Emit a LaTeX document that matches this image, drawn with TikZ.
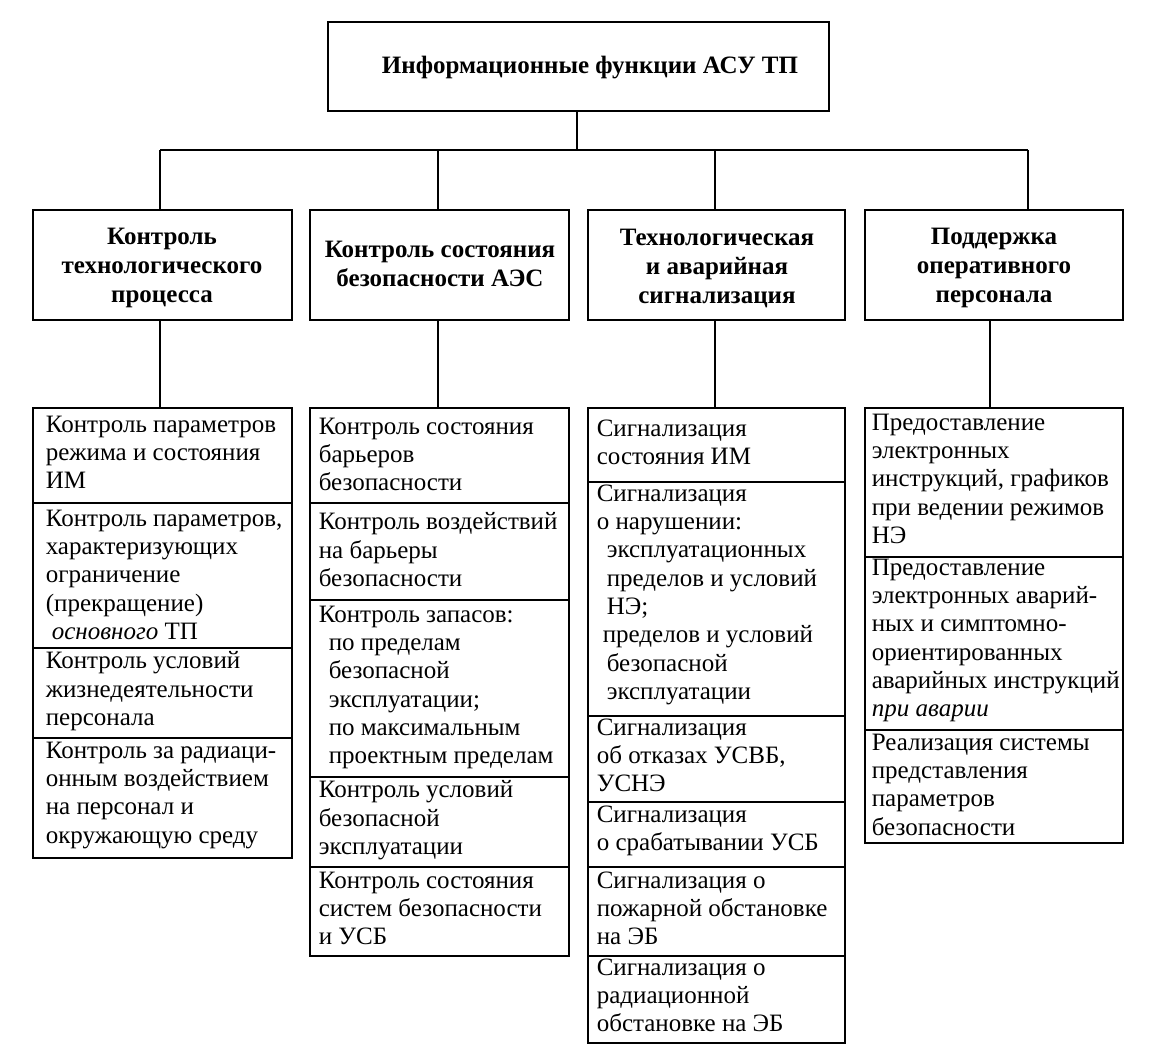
\documentclass[tikz,border=0pt]{standalone}
\usepackage{fontspec}
\setmainfont{Liberation Serif}
\begin{document}
\begin{tikzpicture}[x=1pt,y=-1pt,line width=1.6pt,
  box/.style={draw},
  head/.style={font=\fontsize{25}{29}\selectfont\bfseries,align=center},
  txt/.style={anchor=north west,inner sep=0pt,align=left,font=\fontsize{25}{28.3}\selectfont}]
\useasboundingbox (0,0) rectangle (1153,1063);
% top
\draw[box] (328,22) rectangle (829,111);
\node[head] (top) at (590,68) {Информационные функции АСУ ТП};
\coordinate (tb) at (577,111);
\coordinate (tj) at (577,150);
\draw (tb) -- (tj);
\draw (160,150) -- (1028,150);
\foreach \x in {160,438,715,1028} \draw (\x,150) -- (\x,210);
% level 2
\draw[box] (33,210) rectangle (292,320);
\draw[box] (310,210) rectangle (569,320);
\draw[box] (588,210) rectangle (845,320);
\draw[box] (865,210) rectangle (1123,320);
\node[head] (h1) at (162,268) {Контроль\\технологического\\процесса};
\node[head] (h2) at (440,264) {Контроль состояния\\безопасности АЭС};
\node[head] (h3) at (717,268) {Технологическая\\и аварийная\\сигнализация};
\node[head] (h4) at (994,268) {Поддержка\\оперативного\\персонала};
\foreach \x in {160,438,715,990} \draw (\x,320) -- (\x,408);
% column 1
\foreach \a/\b in {408/503,503/648,648/738,738/858} \draw[box] (33,\a) rectangle (292,\b);
\node[txt] (c11) at (45,415) {Контроль параметров\\режима и состояния\\ИМ};
\node[txt] (c12) at (45,509) {Контроль параметров,\\характеризующих\\ограничение\\(прекращение)\\\hspace*{6pt}\textit{основного} ТП};
\node[txt] (c13) at (45,651) {Контроль условий\\жизнедеятельности\\персонала};
\node[txt] (c14) at (45,741) {Контроль за радиаци-\\онным воздействием\\на персонал и\\окружающую среду};
% column 2
\foreach \a/\b in {408/503,503/600,600/777,777/867,867/956} \draw[box] (310,\a) rectangle (569,\b);
\node[txt] (c21) at (318,417) {Контроль состояния\\барьеров\\безопасности};
\node[txt] (c22) at (318,512) {Контроль воздействий\\на барьеры\\безопасности};
\node[txt] (c23) at (318,605) {Контроль запасов:\\\hspace*{10pt}по пределам\\\hspace*{10pt}безопасной\\\hspace*{10pt}эксплуатации;\\\hspace*{10pt}по максимальным\\\hspace*{10pt}проектным пределам};
\node[txt] (c24) at (318,780) {Контроль условий\\безопасной\\эксплуатации};
\node[txt] (c25) at (318,871) {Контроль состояния\\систем безопасности\\и УСБ};
% column 3
\foreach \a/\b in {408/482,482/716,716/802,802/867,867/956,956/1043} \draw[box] (588,\a) rectangle (845,\b);
\node[txt] (c31) at (596,419) {Сигнализация\\состояния ИМ};
\node[txt] (c32) at (596,484) {Сигнализация\\о нарушении:\\\hspace*{10pt}эксплуатационных\\\hspace*{10pt}пределов и условий\\\hspace*{10pt}НЭ;\\\hspace*{6pt}пределов и условий\\\hspace*{10pt}безопасной\\\hspace*{10pt}эксплуатации};
\node[txt] (c33) at (596,718) {Сигнализация\\об отказах УСВБ,\\УСНЭ};
\node[txt] (c34) at (596,805) {Сигнализация\\о срабатывании УСБ};
\node[txt] (c35) at (596,871) {Сигнализация о\\пожарной обстановке\\на ЭБ};
\node[txt] (c36) at (596,958) {Сигнализация о\\радиационной\\обстановке на ЭБ};
% column 4
\foreach \a/\b in {408/557,557/730,730/843} \draw[box] (865,\a) rectangle (1123,\b);
\node[txt] (c41) at (871,413) {Предоставление\\электронных\\инструкций, графиков\\при ведении режимов\\НЭ};
\node[txt] (c42) at (871,558) {Предоставление\\электронных аварий-\\ных и симптомно-\\ориентированных\\аварийных инструкций\\\textit{при аварии}};
\node[txt] (c43) at (871,733) {Реализация системы\\представления\\параметров\\безопасности};
\end{tikzpicture}
\end{document}
